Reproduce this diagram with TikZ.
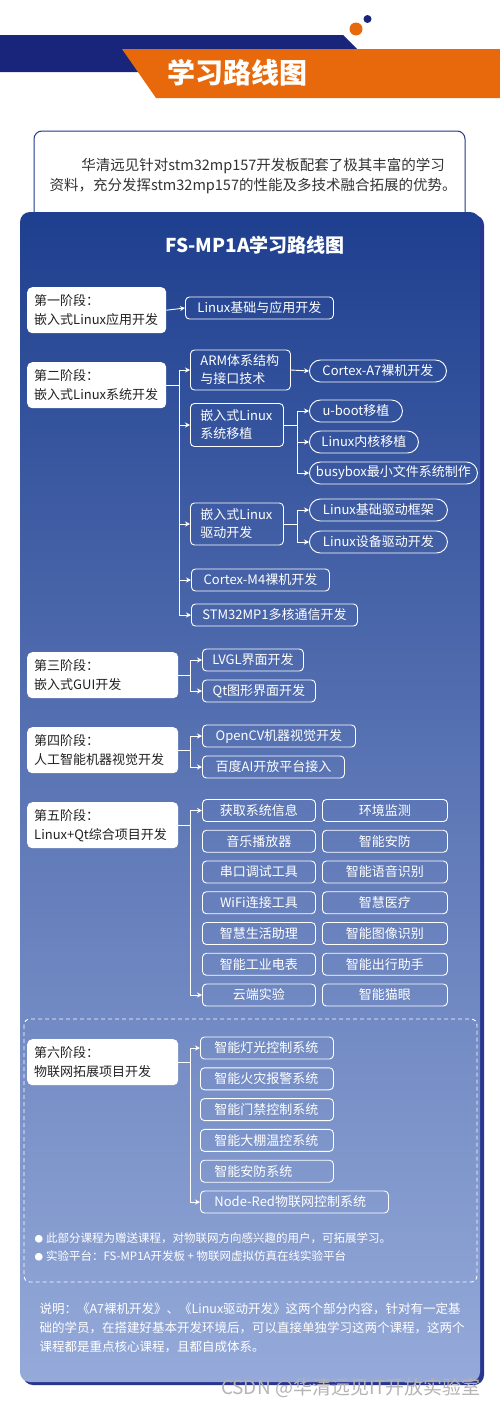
\documentclass[tikz,border=0pt]{standalone}
\usepackage{fontspec}
\setmainfont{Noto Sans CJK SC}
\usepackage{xcolor}
\usepackage{tikz}
\usetikzlibrary{arrows.meta,positioning,calc}
\definecolor{cNavy}{HTML}{18257A}
\definecolor{cOrange}{HTML}{E8690C}
\definecolor{cIntro}{HTML}{1F3A8A}
\definecolor{cPanelTop}{HTML}{1E3F8F}
\definecolor{cPanelMid}{HTML}{5D77B6}
\definecolor{cPanelBot}{HTML}{95AAD9}
\definecolor{cShadow}{HTML}{2A3590}
\definecolor{cInk}{HTML}{222222}
\definecolor{cText}{HTML}{333333}
\definecolor{cMark}{HTML}{B4B4B4}
\tikzset{
  stage/.style={fill=white,rounded corners=5pt,text=cInk,align=left,anchor=north west,text width=#1,inner xsep=7pt,minimum height=46pt,font=\fontsize{13}{19}\selectfont},
  item/.style={draw=white,rounded corners=4pt,line width=0.9pt,text=white,minimum height=22pt,minimum width=#1,anchor=west,inner xsep=2pt,inner ysep=0pt,font=\fontsize{13}{16}\selectfont},
  item/.default=10pt,
  pill/.style={item=#1,rounded corners=11pt},
  duo/.style={item,text width=#1,align=left,inner xsep=10pt,minimum height=40pt,font=\fontsize{13}{18}\selectfont},
  lbox/.style={item,text width=#1,align=left,inner xsep=14pt},
  arr/.style={-{Stealth[length=5pt,width=5pt]},line width=0.9pt,white},
}
\newcommand{\tipdot}{{\fontsize{8.5}{8.5}\selectfont ●}\hspace{3pt}}

\begin{document}
\begin{tikzpicture}[x=1pt,y=-1pt]
  \useasboundingbox (0,0) rectangle (500,1408);
  \fill[white] (0,0) rectangle (500,1408);
  % header band
  \fill[cNavy] (0,35) -- (343,35) -- (380,72) -- (0,72) -- cycle;
  \fill[cOrange] (122,49) -- (500,49) -- (500,98) -- (156,98) -- cycle;
  \fill[cOrange] (356,29) circle (6.5);
  \fill[cNavy] (367.5,19) circle (4);
  \node[text=white,font=\fontsize{28}{28}\selectfont\bfseries] (head) at (237,73) {学习路线图};
  % intro
  \draw[cIntro,line width=1pt,rounded corners=8pt,fill=white] (34,131) rectangle (465,240);
  \node[anchor=west,align=left,text=cText,font=\fontsize{14.5}{20}\selectfont] (intro) at (46,176)
    {\hspace*{2.2em}华清远见针对stm32mp157开发板配套了极其丰富的学习\\资料，充分发挥stm32mp157的性能及多技术融合拓展的优势。};
  % panel
  \fill[cShadow,rounded corners=10pt] (23,215) rectangle (484,1385);
  \shade[top color=cPanelTop,bottom color=cPanelBot,middle color=cPanelMid,rounded corners=10pt] (20,212) rectangle (480,1382);
  \node[text=white,font=\fontsize{19}{19}\selectfont\bfseries] (title) at (255,245) {FS-MP1A学习路线图};

  % stage 1
  \node[stage=125pt] (s1) at (27,287) {第一阶段：\\嵌入式Linux应用开发};
  \node[item=148pt] (lb) at (185,308) {Linux基础与应用开发};
  \draw[arr] (s1.east) -- (lb.west);

  % stage 2
  \node[stage=125pt] (s2) at (27,362) {第二阶段：\\嵌入式Linux系统开发};
  \node[duo=80pt] (arm) at (190,370) {ARM体系结构\\与接口技术};
  \node[pill=137pt] (a7) at (309,371) {Cortex-A7裸机开发};
  \node[duo=73pt,minimum height=43pt] (port) at (190,425) {嵌入式Linux\\系统移植};
  \node[pill=93pt] (uboot) at (309,411) {u-boot移植};
  \node[pill=109pt] (kern) at (309,442) {Linux内核移植};
  \node[pill=168pt] (bbox) at (309,473) {busybox最小文件系统制作};
  \node[duo=73pt,minimum height=42pt] (drv) at (190,524) {嵌入式Linux\\驱动开发};
  \node[pill=138pt] (frame) at (309,510) {Linux基础驱动框架};
  \node[pill=138pt] (dev) at (309,542) {Linux设备驱动开发};
  \node[item=138pt] (m4) at (191,580) {Cortex-M4裸机开发};
  \node[item=166pt] (mp) at (191,615) {STM32MP1多核通信开发};
  \foreach \n in {arm,port,drv,m4,mp}
    \draw[arr] (s2.east) -- ++(13,0) |- (\n.west);
  \draw[arr] (arm.east) -- (a7.west);
  \foreach \n in {uboot,kern,bbox}
    \draw[arr] (port.east) -- ++(14,0) |- (\n.west);
  \foreach \n in {frame,dev}
    \draw[arr] (drv.east) -- ++(14,0) |- (\n.west);

  % stage 3
  \node[stage=137pt] (s3) at (27,652) {第三阶段：\\嵌入式GUI开发};
  \node[item=101pt] (lvgl) at (202,660) {LVGL界面开发};
  \node[item=113pt] (qt) at (202,691) {Qt图形界面开发};
  \foreach \n in {lvgl,qt}
    \draw[arr] (s3.east) -- ++(12,0) |- (\n.west);

  % stage 4
  \node[stage=137pt] (s4) at (27,727) {第四阶段：\\人工智能机器视觉开发};
  \node[item=153pt] (cv) at (202,736) {OpenCV机器视觉开发};
  \node[item=142pt] (bd) at (202,767) {百度AI开放平台接入};
  \foreach \n in {cv,bd}
    \draw[arr] (s4.east) -- ++(12,0) |- (\n.west);

  % stage 5
  \node[stage=137pt] (s5) at (27,802) {第五阶段：\\Linux+Qt综合项目开发};
  \foreach \l/\r [count=\i] in {获取系统信息/环境监测,音乐播放器/智能安防,串口调试工具/智能语音识别,WiFi连接工具/智慧医疗,智慧生活助理/智能图像识别,智能工业电表/智能出行助手,云端实验/智能猫眼}{
    \node[item=113pt] (pl\i) at (202,{810.5+30.75*(\i-1)}) {\l};
    \node[item=125pt] (pr\i) at (322,{810.5+30.75*(\i-1)}) {\r};
  }
  \foreach \n in {pl1,pl7}
    \draw[arr] (s5.east) -- ++(12,0) |- (\n.west);

  % stage 6 (optional part)
  \draw[white,dash pattern=on 4pt off 3pt,line width=0.9pt,rounded corners=6pt] (24,1019) rectangle (477,1282);
  \node[stage=137pt] (s6) at (27,1039) {第六阶段：\\物联网拓展项目开发};
  \foreach \t [count=\i] in {智能灯光控制系统,智能火灾报警系统,智能门禁控制系统,智能大棚温控系统,智能安防系统}
    \node[lbox=105pt] (iot\i) at (200,{1048+30.8*(\i-1)}) {\t};
  \node[lbox=160pt] (nred) at (200,1202) {Node-Red物联网控制系统};
  \foreach \n in {iot1,nred}
    \draw[arr] (s6.east) -- ++(12,0) |- (\n.west);
  \node[anchor=west,align=left,text=white,font=\fontsize{11.5}{18}\selectfont] (tips) at (31,1247)
    {\tipdot 此部分课程为赠送课程，对物联网方向感兴趣的用户，可拓展学习。\\\tipdot 实验平台：FS-MP1A开发板 + 物联网虚拟仿真在线实验平台};

  % note
  \node[anchor=west,align=left,text=white,font=\fontsize{12.5}{19}\selectfont] (note) at (36,1328)
    {说明：《A7裸机开发》、《Linux驱动开发》这两个部分内容，针对有一定基\\础的学员，在搭建好基本开发环境后，可以直接单独学习这两个课程，这两个\\课程都是重点核心课程，且都自成体系。};
  \node[text=cMark,font=\fontsize{19}{19}\selectfont] (mark) at (351,1388) {CSDN @华清远见IT开放实验室};
\end{tikzpicture}
\end{document}
